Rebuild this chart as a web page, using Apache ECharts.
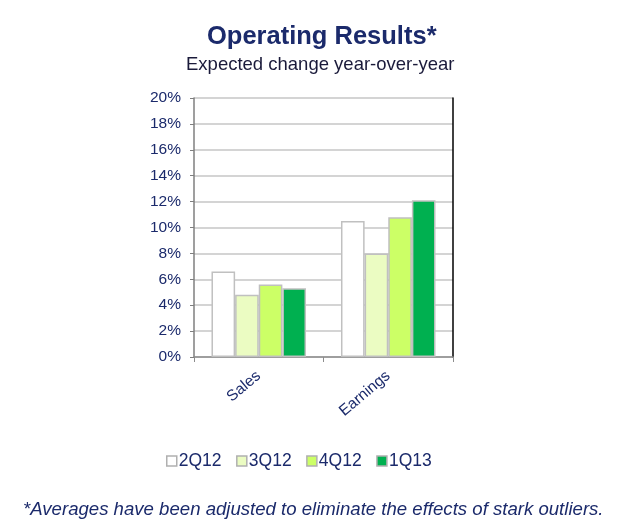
<!DOCTYPE html>
<html><head><meta charset="utf-8">
<script src="https://cdn.jsdelivr.net/npm/echarts@6/dist/echarts.min.js"></script>
<style>html,body{margin:0;padding:0;background:#fff}#c{width:618px;height:520px}</style>
</head><body><div id="c"></div>
<script>
const categories = ['Sales', 'Earnings'];
const seriesNames = ['2Q12', '3Q12', '4Q12', '1Q13'];
const s2Q12 = [6.6, 10.5];
const s3Q12 = [4.8, 8.0];
const s4Q12 = [5.6, 10.8];
const s1Q13 = [5.3, 12.1];
const seriesData = [s2Q12, s3Q12, s4Q12, s1Q13];
const colors = ['#ffffff', '#ebfcc2', '#ccff66', '#00b050'];
const yTicks = [0, 2, 4, 6, 8, 10, 12, 14, 16, 18, 20];

const navy = '#1b2a6b';
const chart = echarts.init(document.getElementById('c'));
chart.setOption({
  animation: false,
  textStyle: { fontFamily: 'Liberation Sans, Arial, sans-serif' },
  title: [
    { text: 'Operating Results*', left: 202, top: 19,
      textStyle: { fontSize: 25.5, fontWeight: 'bold', color: navy, fontFamily: 'Liberation Sans, Arial' } },
    { text: 'Expected change year-over-year', left: 181, top: 50,
      textStyle: { fontSize: 18.5, fontWeight: 'normal', color: '#1a1a3a', fontFamily: 'Liberation Sans, Arial' } },
    { text: '*Averages have been adjusted to eliminate the effects of stark outliers.', left: 18, top: 495,
      textStyle: { fontSize: 18.6, fontWeight: 'normal', fontStyle: 'italic', color: navy, fontFamily: 'Liberation Sans, Arial' } }
  ],
  legend: {
    data: seriesNames, bottom: 45, left: 161,
    itemWidth: 10, itemHeight: 10, itemGap: 14.5,
    icon: 'rect',
    textStyle: { fontSize: 17.5, color: navy, padding: [0, 0, 0, -3] },
    itemStyle: { borderColor: '#b0b0b0', borderWidth: 1.5 }
  },
  grid: { left: 194, right: 165, top: 98, bottom: 163 },
  xAxis: {
    type: 'category', data: categories,
    axisLine: { lineStyle: { color: '#8c8c8c', width: 1.5 } },
    axisTick: { show: true, length: 5, lineStyle: { color: '#8c8c8c' } },
    axisLabel: { rotate: 40, fontSize: 15.5, color: navy, margin: 17 }
  },
  yAxis: [{
    type: 'value', min: 0, max: 20, interval: 2,
    axisLine: { show: true, lineStyle: { color: '#7f7f7f', width: 1.5 } },
    axisTick: { show: true, length: 4, lineStyle: { color: '#7f7f7f' } },
    axisLabel: { fontSize: 15.5, color: navy, margin: 13, formatter: v => yTicks.includes(v) ? v + '%' : '' },
    splitLine: { lineStyle: { color: '#c6c6c6', width: 1.5 } }
  }, {
    type: 'value', min: 0, max: 20, interval: 2, position: 'right',
    axisLine: { show: true, lineStyle: { color: '#000', width: 1.5 } },
    axisTick: { show: false }, axisLabel: { show: false }, splitLine: { show: false }
  }],
  series: seriesNames.map((n, i) => ({
    name: n, type: 'bar', data: seriesData[i],
    barGap: '0%', barCategoryGap: '27%',
    itemStyle: { color: colors[i], borderColor: '#c0c0c0', borderWidth: 1.5 }
  }))
});
</script></body></html>
